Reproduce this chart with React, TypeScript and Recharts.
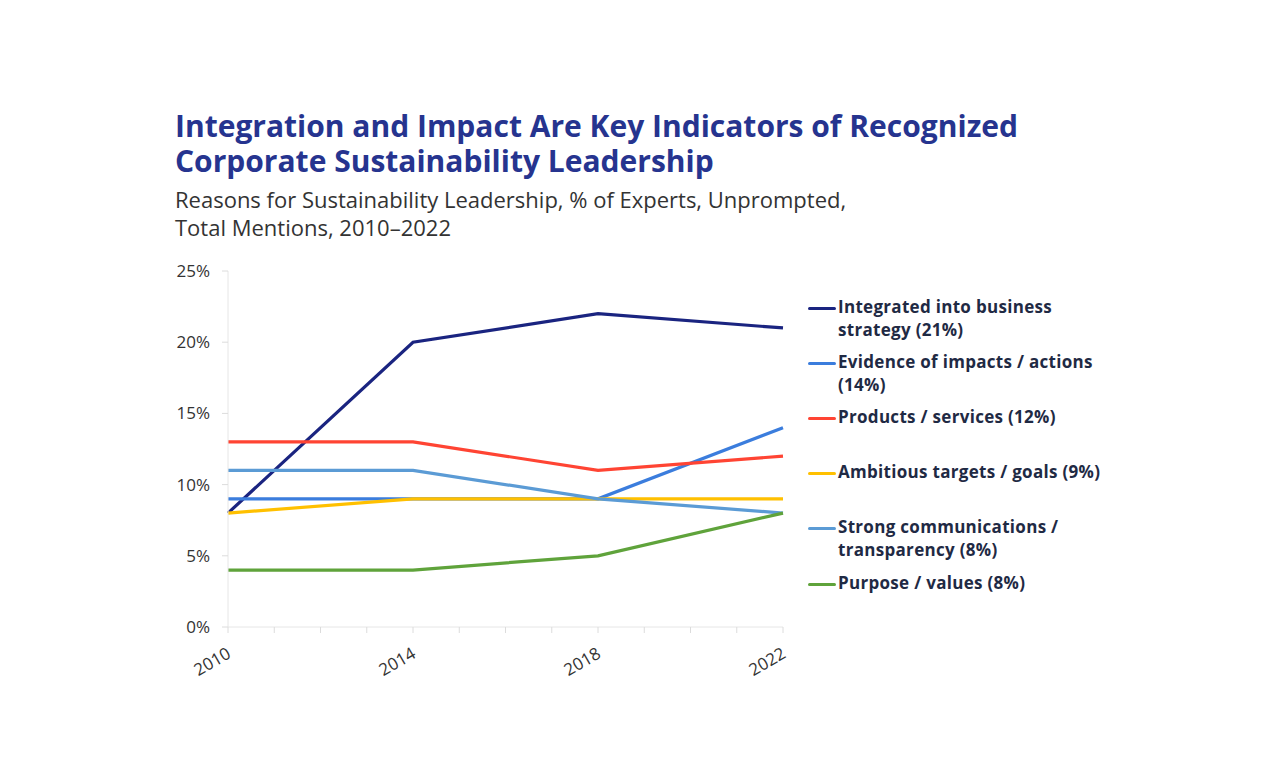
import React from "react";
import { LineChart, Line, XAxis, YAxis } from "recharts";

const years = [2010, 2014, 2018, 2022];
const integrated = [8, 20, 22, 21];
const evidence = [9, 9, 9, 14];
const products = [13, 13, 11, 12];
const ambitious = [8, 9, 9, 9];
const strong = [11, 11, 9, 8];
const purpose = [4, 4, 5, 8];

const yTicks = [0, 5, 10, 15, 20, 25];
const xTicks = [2010, 2011, 2012, 2013, 2014, 2015, 2016, 2017, 2018, 2019, 2020, 2021, 2022];
const labeledYears = [2010, 2014, 2018, 2022];

const titleLines = ["Integration and Impact Are Key Indicators of Recognized", "Corporate Sustainability Leadership"];
const subtitleLines = ["Reasons for Sustainability Leadership, % of Experts, Unprompted,", "Total Mentions, 2010–2022"];

const seriesInfo = [
  { key: "integrated", name: ["Integrated into business", "strategy (21%)"], color: "#1a2480" },
  { key: "evidence", name: ["Evidence of impacts / actions", "(14%)"], color: "#3b7ddd" },
  { key: "products", name: ["Products / services (12%)"], color: "#ff4433" },
  { key: "ambitious", name: ["Ambitious targets / goals (9%)"], color: "#ffc000" },
  { key: "strong", name: ["Strong communications /", "transparency (8%)"], color: "#5b9bd5" },
  { key: "purpose", name: ["Purpose / values (8%)"], color: "#5fa33b" },
];
const legendTops = [295, 350, 405, 460, 515, 571];

const data = years.map((y, i) => ({
  year: y,
  integrated: integrated[i],
  evidence: evidence[i],
  products: products[i],
  ambitious: ambitious[i],
  strong: strong[i],
  purpose: purpose[i],
}));

const font = "'Segoe UI', 'Open Sans', 'Noto Sans', sans-serif";

const XTick = (props: any) => {
  const { x, y, payload } = props;
  if (!labeledYears.includes(payload.value)) return null;
  return (
    <text
      x={x + 4}
      y={y + 22}
      transform={`rotate(-30, ${x + 4}, ${y + 22})`}
      textAnchor="end"
      fontSize={17}
      fill="#333"
      fontFamily={font}
    >
      {payload.value}
    </text>
  );
};

export default function App() {
  return (
    <div style={{ position: "fixed", left: 0, top: 0, width: 1280, height: 780, background: "#fff", fontFamily: font }}>
      {titleLines.map((t, i) => (
        <div
          key={t}
          style={{ position: "absolute", left: 175, top: 108 + i * 35, height: 35, color: "#26348f", fontWeight: 700, fontSize: 30, lineHeight: "35px", whiteSpace: "nowrap" }}
        >
          {t}
        </div>
      ))}
      {subtitleLines.map((t, i) => (
        <div
          key={t}
          style={{ position: "absolute", left: 175, top: 185 + i * 28, height: 28, color: "#333", fontWeight: 400, fontSize: 22, lineHeight: "28px", whiteSpace: "nowrap" }}
        >
          {t}
        </div>
      ))}
      <div style={{ position: "absolute", left: 0, top: 0 }}>
        <LineChart width={1280} height={780} data={data} margin={{ top: 271, left: 168, right: 497, bottom: 103 }}>
          <XAxis
            dataKey="year"
            type="number"
            domain={[2010, 2022]}
            ticks={xTicks}
            interval={0}
            height={50}
            stroke="#e6e6e6"
            tickLine={{ stroke: "#dcdcdc" }}
            tick={<XTick />}
          />
          <YAxis
            domain={[0, 25]}
            ticks={yTicks}
            width={60}
            stroke="#e6e6e6"
            tickLine={{ stroke: "#dcdcdc" }}
            tickMargin={12}
            tickFormatter={(v: number) => `${v}%`}
            tick={{ fontSize: 17, fill: "#333", fontFamily: font }}
          />
          {seriesInfo.map((s) => (
            <Line
              key={s.key}
              dataKey={s.key}
              stroke={s.color}
              strokeWidth={3.2}
              dot={false}
              activeDot={false}
              isAnimationActive={false}
              type="linear"
            />
          ))}
        </LineChart>
      </div>
      {seriesInfo.map((s, i) => (
        <div key={s.key} style={{ position: "absolute", left: 808, top: legendTops[i], display: "flex", alignItems: "flex-start" }}>
          <div style={{ width: 28, height: 3, background: s.color, marginTop: 12, borderRadius: 2 }} />
          <div style={{ marginLeft: 2, fontSize: 17, fontWeight: 700, color: "#1f2a44", lineHeight: "23px", letterSpacing: 0.3, whiteSpace: "nowrap" }}>
            {s.name.map((n, j) => (
              <div key={j}>{n}</div>
            ))}
          </div>
        </div>
      ))}
    </div>
  );
}
